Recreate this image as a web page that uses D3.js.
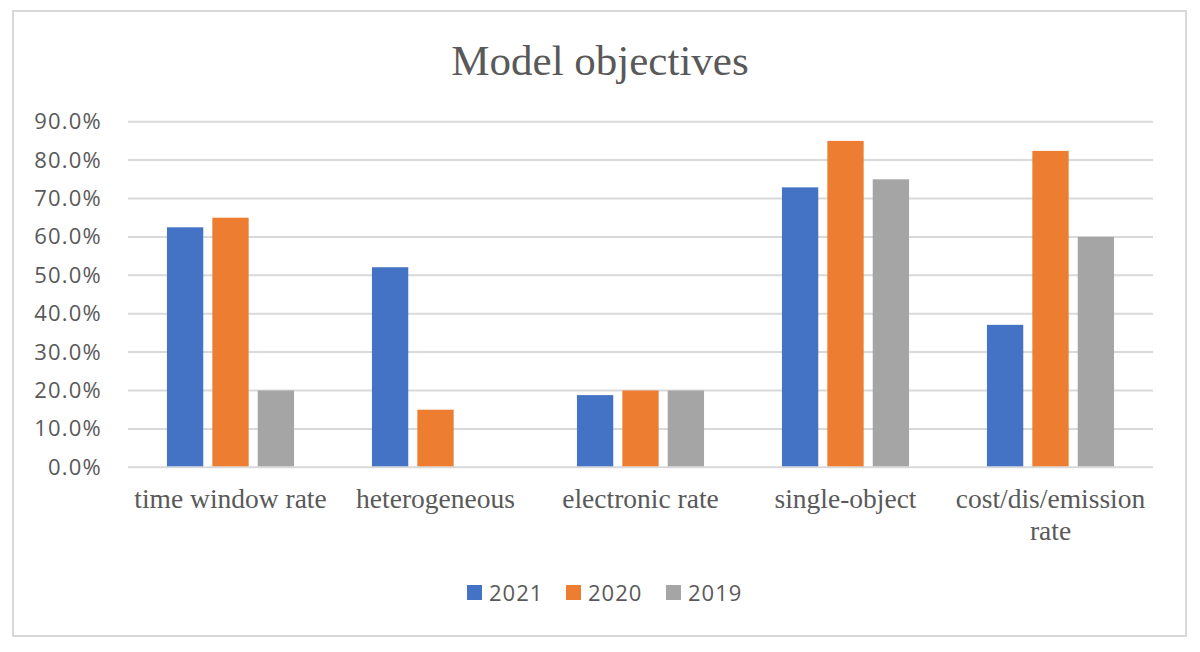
<!DOCTYPE html>
<html>
<head>
<meta charset="utf-8">
<script src="https://cdn.jsdelivr.net/npm/d3@7"></script>
<style>
  html, body { margin: 0; padding: 0; background: #fff; }
  svg { display: block; }
</style>
</head>
<body>
<div id="chart"></div>
<script>
// Chart data
const categories = ['time window rate', 'heterogeneous', 'electronic rate', 'single-object', 'cost/dis/emission rate'];
const seriesNames = ['2021', '2020', '2019'];
const values2021 = [0.625, 0.521, 0.188, 0.729, 0.371];
const values2020 = [0.650, 0.150, 0.200, 0.850, 0.824];
const values2019 = [0.200, 0.000, 0.200, 0.750, 0.600];
const yTicks = [0, 0.1, 0.2, 0.3, 0.4, 0.5, 0.6, 0.7, 0.8, 0.9];
const colors = ['#4472C4', '#ED7D31', '#A5A5A5'];

const width = 1200, height = 652;
const serif = '"Liberation Serif", "Times New Roman", serif';
const sans = '"Open Sans", "DejaVu Sans", sans-serif';
const textColor = '#595959';

const svg = d3.select('#chart')
    .append('svg')
    .attr('width', width)
    .attr('height', height);

// chart frame
svg.append('rect')
    .attr('x', 13)
    .attr('y', 11)
    .attr('width', 1173)
    .attr('height', 625)
    .attr('fill', '#fff')
    .attr('stroke', '#d9d9d9')
    .attr('stroke-width', 2);

// title
svg.append('text')
    .attr('x', 600)
    .attr('y', 75)
    .attr('text-anchor', 'middle')
    .style('font-family', serif)
    .style('font-size', '43px')
    .style('fill', textColor)
    .text('Model objectives');

const plot = { left: 128, right: 1153, top: 121.7, bottom: 467.3 };

const x0 = d3.scaleBand()
    .domain(categories)
    .range([plot.left, plot.right]);

const groupWidth = x0.bandwidth() * 0.62;
const x1 = d3.scaleBand()
    .domain(seriesNames)
    .range([0, groupWidth])
    .paddingInner(0.2);

const y = d3.scaleLinear()
    .domain([0, 0.9])
    .range([plot.bottom, plot.top]);

// gridlines
svg.append('g')
    .selectAll('line')
    .data(yTicks)
    .enter()
    .append('line')
    .attr('x1', plot.left)
    .attr('x2', plot.right)
    .attr('y1', d => y(d))
    .attr('y2', d => y(d))
    .attr('stroke', '#d9d9d9')
    .attr('stroke-width', 2);

// y axis labels
const yAxis = d3.axisLeft(y)
    .tickValues(yTicks)
    .tickFormat(d3.format('.1%'))
    .tickSize(0)
    .tickPadding(0);

const yG = svg.append('g')
    .attr('transform', 'translate(102,0)')
    .call(yAxis);
yG.select('.domain').remove();
yG.selectAll('text')
    .style('font-family', sans)
    .style('font-size', '22px')
    .style('letter-spacing', '1.2px')
    .style('fill', textColor);

// bars
const seriesValues = [values2021, values2020, values2019];
const groups = svg.append('g')
    .selectAll('g')
    .data(categories)
    .enter()
    .append('g')
    .attr('transform', d => `translate(${x0(d) + (x0.bandwidth() - groupWidth) / 2},0)`);

groups.selectAll('rect')
    .data((d, i) => seriesNames.map((s, j) => ({ s, j, v: seriesValues[j][i] })))
    .enter()
    .append('rect')
    .attr('x', d => x1(d.s))
    .attr('width', x1.bandwidth())
    .attr('y', d => y(d.v))
    .attr('height', d => y(0) - y(d.v) - 1)
    .attr('fill', d => colors[d.j]);

// category labels (wrapped like Excel)
const xLabels = svg.append('g')
    .selectAll('text')
    .data(categories)
    .enter()
    .append('text')
    .attr('text-anchor', 'middle')
    .style('font-family', serif)
    .style('font-size', '27.5px')
    .style('fill', textColor);

xLabels.each(function(d) {
    const lines = d === 'cost/dis/emission rate' ? ['cost/dis/emission', 'rate'] : [d];
    const cx = x0(d) + x0.bandwidth() / 2;
    d3.select(this).selectAll('tspan')
        .data(lines)
        .enter()
        .append('tspan')
        .attr('x', cx)
        .attr('y', (l, k) => 508 + k * 32)
        .text(l => l);
});

// legend
const legendX = [467, 566, 666];
const legend = svg.append('g')
    .selectAll('g')
    .data(seriesNames)
    .enter()
    .append('g')
    .attr('transform', (d, i) => `translate(${legendX[i]},585)`);

legend.append('rect')
    .attr('width', 15)
    .attr('height', 15)
    .attr('fill', (d, i) => colors[i]);

legend.append('text')
    .attr('x', 22)
    .attr('y', 16)
    .style('font-family', sans)
    .style('font-size', '22px')
    .style('letter-spacing', '1px')
    .style('fill', textColor)
    .text(d => d);
</script>
</body>
</html>
